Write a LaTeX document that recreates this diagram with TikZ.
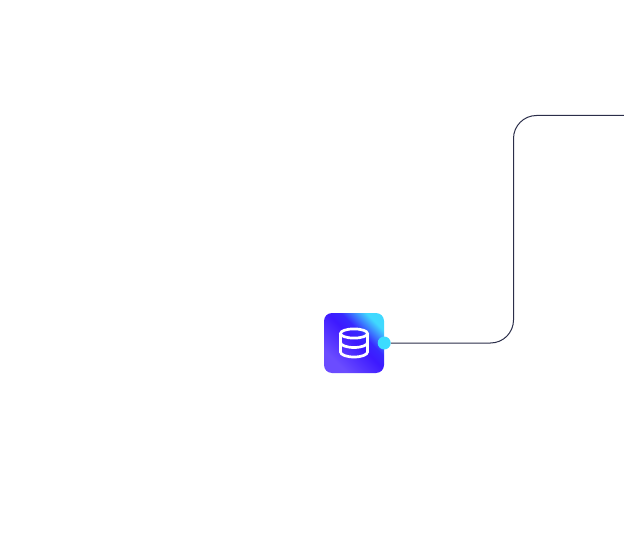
\documentclass[tikz,border=0pt]{standalone}
\definecolor{wire}{HTML}{2B2E4A}
\definecolor{portcyan}{HTML}{3CDCFF}
\pgfdeclarehorizontalshading{dbfill}{100bp}{rgb(0bp)=(0.42,0.30,1);rgb(28bp)=(0.42,0.30,1);rgb(52bp)=(0.24,0.10,1);rgb(60bp)=(0.22,0.16,1);rgb(75bp)=(0.25,0.85,1);rgb(100bp)=(0.25,0.85,1)}
\tikzset{
  dbnode/.style={minimum size=60pt, inner sep=0pt, rounded corners=8pt, shading=dbfill, shading angle=45},
  portnode/.style={circle, fill=portcyan, minimum size=13pt, inner sep=0pt},
  dbline/.style={draw=white, line width=2.7pt}
}
\begin{document}
\begin{tikzpicture}[x=1pt, y=-1pt]
  \useasboundingbox (0, 0) rectangle (624, 540);
  \node[dbnode] (db) at (354, 343) {};
  \node[portnode] (port) at (db.east) {};
  \coordinate (wireend) at (624, 115.5);

  \draw[wire, line width=1pt, rounded corners=23pt] (port) -| (513.5, 115.5) -- (wireend);

  % the cylinder
  \draw[dbline] (354, 333.5) ellipse (13.5pt and 4.6pt);
  \draw[dbline] (340.5, 333.5) -- (340.5, 352) arc[start angle=180, end angle=360, x radius=13.5pt, y radius=5pt] -- (367.5, 333.5);
  \draw[dbline] (340.5, 342.5) arc[start angle=180, end angle=360, x radius=13.5pt, y radius=5pt];
\end{tikzpicture}
\end{document}
